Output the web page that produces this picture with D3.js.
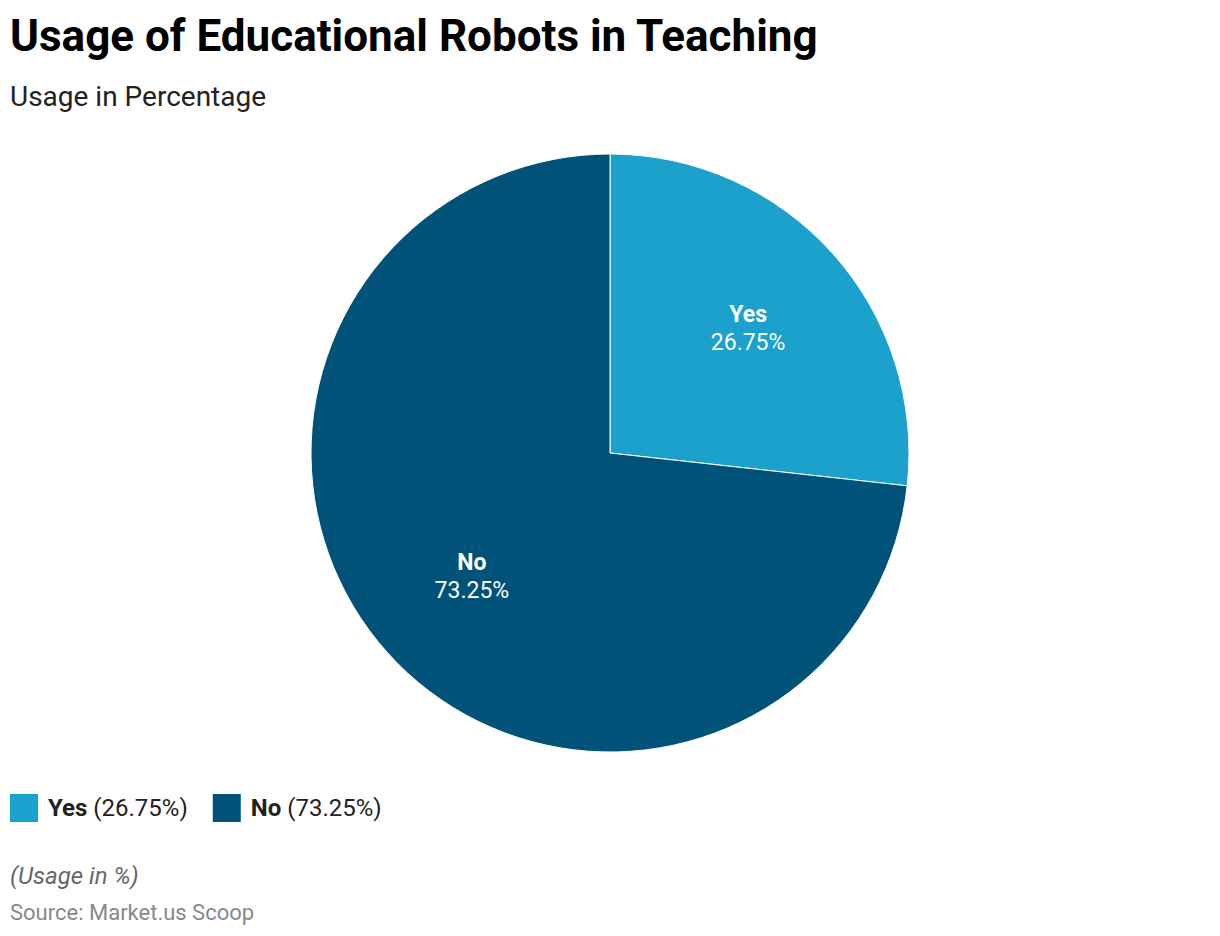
<!DOCTYPE html>
<html>
<head>
<meta charset="utf-8">
<script src="https://cdn.jsdelivr.net/npm/d3@7"></script>
<style>
  body { margin: 0; background: #fff; font-family: Roboto, sans-serif; }
</style>
</head>
<body>
<svg id="chart" width="1220" height="936"></svg>
<script>
const categories = ["Yes", "No"];
const values = [26.75, 73.25];
const colors = ["#1ba1cc", "#005278"];

const svg = d3.select("#chart");
const cx = 610, cy = 453, radius = 299;

svg.append("text")
  .attr("x", 10).attr("y", 51)
  .style("font-size", "44px").style("font-weight", 700).style("fill", "#000")
  .text("Usage of Educational Robots in Teaching");

svg.append("text")
  .attr("x", 10).attr("y", 106)
  .style("font-size", "28px").style("fill", "#222")
  .text("Usage in Percentage");

const data = categories.map((c, i) => ({ name: c, value: values[i], color: colors[i] }));

const pie = d3.pie().sort(null).value(d => d.value);
const arc = d3.arc().innerRadius(0).outerRadius(radius);
const labelArc = d3.arc().innerRadius(radius * 0.62).outerRadius(radius * 0.62);

const g = svg.append("g").attr("transform", `translate(${cx},${cy})`);

const arcs = pie(data);

g.selectAll("path")
  .data(arcs)
  .join("path")
  .attr("d", arc)
  .attr("fill", d => d.data.color)
  .attr("stroke", "#fff")
  .attr("stroke-width", 1);

const labels = g.selectAll("g.label")
  .data(arcs)
  .join("g")
  .attr("class", "label")
  .attr("transform", d => `translate(${labelArc.centroid(d)})`)
  .style("text-anchor", "middle")
  .style("fill", "#fff");

labels.append("text")
  .attr("y", -7)
  .style("font-size", "23px").style("font-weight", 700)
  .text(d => d.data.name);

labels.append("text")
  .attr("y", 21)
  .style("font-size", "23px")
  .text(d => d3.format(".2f")(d.data.value) + "%");

// legend
const legend = svg.append("g").attr("transform", "translate(10,794)");
let lx = 0;
data.forEach(d => {
  const item = legend.append("g").attr("transform", `translate(${lx},0)`);
  item.append("rect").attr("width", 28).attr("height", 28).attr("fill", d.color);
  const t = item.append("text").attr("x", 38).attr("y", 22)
    .style("font-size", "24px").style("fill", "#222");
  t.append("tspan").style("font-weight", 700).text(d.name);
  t.append("tspan").text(` (${d3.format(".2f")(d.value)}%)`);
  const w = item.node().getBBox().width;
  lx += w + 25;
});

svg.append("text")
  .attr("x", 10).attr("y", 884)
  .style("font-size", "24px").style("font-style", "italic").style("fill", "#666")
  .text("(Usage in %)");

svg.append("text")
  .attr("x", 10).attr("y", 920)
  .style("font-size", "22px").style("fill", "#888")
  .text("Source: Market.us Scoop");
</script>
</body>
</html>
